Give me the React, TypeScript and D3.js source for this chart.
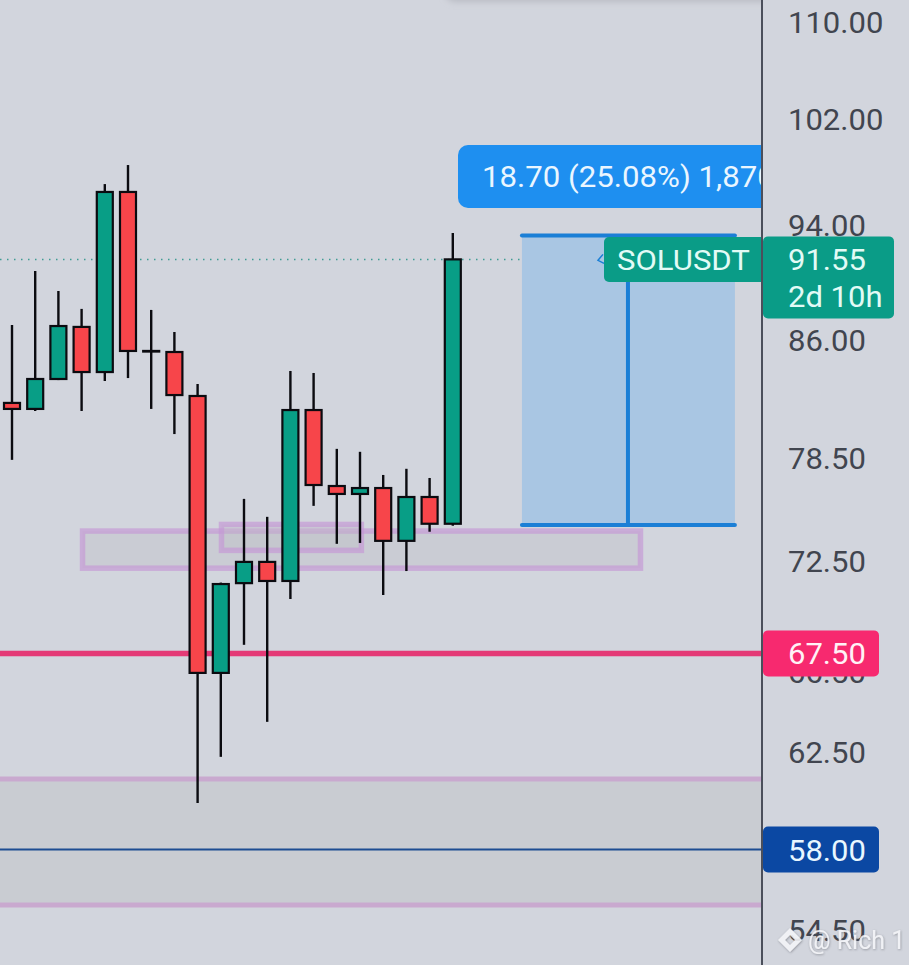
import * as d3 from "d3";
import { useEffect, useRef } from "react";

const W = 909;
const H = 965;
const AXIS_X = 762;

// SOLUSDT candles, oldest first
const opens = [81.93, 81.55, 83.46, 86.89, 83.91, 96.45, 85.29, 85.22, 82.37, 66.49, 71.27, 72.45, 71.39, 81.48, 76.83, 76.36, 76.71, 73.64, 76.18, 74.62];
const highs = [87.02, 90.73, 89.34, 88.11, 97.04, 98.48, 88.04, 86.55, 83.13, 71.3, 76.07, 75.02, 83.98, 83.85, 79.07, 78.89, 77.49, 77.86, 77.31, 93.43];
const lows = [78.4, 81.42, 83.39, 81.42, 83.33, 83.52, 81.55, 79.98, 60.13, 62.31, 67.95, 64.02, 70.4, 75.66, 73.47, 73.52, 70.62, 71.94, 74.16, 74.5];
const closes = [81.55, 83.46, 86.95, 83.91, 96.45, 85.29, 85.25, 82.43, 66.49, 71.22, 72.45, 71.39, 81.48, 76.89, 76.36, 76.71, 73.64, 76.18, 74.62, 91.55];

const priceTicks = [110, 102, 94, 86, 78.5, 72.5, 66.5, 62.5, 58, 54.5];

// drawn zones: [bar from, bar to, price top, price bottom]
const demandZone = [3.04, 27.09, 74.2, 72.1];
const innerZone = [9.03, 15.06, 74.58, 73.1];
const lowerZone = [-5, 40, 61.25, 55.56];

// long position tool
const posBars = [21.98, 31.16];
const posMidBar = 26.55;
const entryPrice = 74.55;
const targetPrice = 93.25;
const posLabel = "18.70 (25.08%) 1,870";

const supportLine = 67.5;
const lowLine = 58;
const lastPrice = 91.55;
const countdown = "2d 10h";

const GREEN = "#089e86";
const RED = "#f7454a";
const FONT = "Roboto, 'Noto Sans', sans-serif";

const fmt = d3.format(".2f");

export default function App() {
    const svgRef = useRef<SVGSVGElement | null>(null);

    useEffect(() => {
        if (!svgRef.current) return;
        const svg = d3.select(svgRef.current);
        svg.selectAll("*").remove();

        const x = d3.scaleLinear().domain([0, opens.length - 1]).range([12, 452.8]);
        const y = d3.scaleLog().domain([54.5, 110]).range([930, 22]);
        const step = x(1) - x(0);
        const bodyW = step * 0.69;

        // the screenshot is a little stretched sideways, so text gets a scaleX
        const stretchText = (sel: any, tx: number, ty: number, sx: number) =>
            sel.attr("x", 0).attr("y", 0).attr("transform", `translate(${tx},${ty}) scale(${sx},1)`);

        const defs = svg.append("defs");
        defs.append("clipPath").attr("id", "plot")
            .append("rect").attr("x", 0).attr("y", 0).attr("width", AXIS_X).attr("height", H);
        const blur = defs.append("filter").attr("id", "shadow").attr("x", "-10%").attr("y", "-50%").attr("width", "120%").attr("height", "200%");
        blur.append("feGaussianBlur").attr("stdDeviation", 3);
        const soft = defs.append("filter").attr("id", "wmshadow").attr("x", "-20%").attr("y", "-40%").attr("width", "140%").attr("height", "180%");
        soft.append("feDropShadow").attr("dx", 0.6).attr("dy", 0.8).attr("stdDeviation", 0.8).attr("flood-color", "#5a5d66").attr("flood-opacity", 0.6);

        svg.append("rect").attr("width", W).attr("height", H).attr("fill", "#d2d5dd");

        const plot = svg.append("g").attr("clip-path", "url(#plot)");

        // shadow of a label box sitting just above the screen
        plot.append("rect")
            .attr("x", 445).attr("y", -40).attr("width", 340).attr("height", 42)
            .attr("rx", 10).attr("fill", "#b9bcc4").attr("filter", "url(#shadow)");
        plot.append("rect")
            .attr("x", 445).attr("y", -40).attr("width", 340).attr("height", 40)
            .attr("rx", 10).attr("fill", "#d2d5dd");

        // lower grey zone
        const [lz0, lz1, lzTop, lzBot] = lowerZone;
        plot.append("rect")
            .attr("x", x(lz0)).attr("y", y(lzTop))
            .attr("width", x(lz1) - x(lz0)).attr("height", y(lzBot) - y(lzTop))
            .attr("fill", "#c9ccd2");
        [lzTop, lzBot].forEach(p => {
            plot.append("line")
                .attr("x1", x(lz0)).attr("x2", x(lz1)).attr("y1", y(p)).attr("y2", y(p))
                .attr("stroke", "#c9a9cf").attr("stroke-width", 5);
        });

        // blue 58 line
        plot.append("line")
            .attr("x1", 0).attr("x2", AXIS_X).attr("y1", y(lowLine)).attr("y2", y(lowLine))
            .attr("stroke", "#1d4c92").attr("stroke-width", 1.8);

        // demand zones
        [demandZone, innerZone].forEach(([b0, b1, pTop, pBot]) => {
            plot.append("rect")
                .attr("x", x(b0)).attr("y", y(pTop))
                .attr("width", x(b1) - x(b0)).attr("height", y(pBot) - y(pTop))
                .attr("fill", "rgba(190,190,196,0.35)")
                .attr("stroke", "rgba(196,150,214,0.65)").attr("stroke-width", 5.5);
        });

        // pink 67.5 line
        plot.append("line")
            .attr("x1", 0).attr("x2", AXIS_X).attr("y1", y(supportLine)).attr("y2", y(supportLine))
            .attr("stroke", "#e43a76").attr("stroke-width", 5.5);

        // last price dotted line
        plot.append("line")
            .attr("x1", 0).attr("x2", 604).attr("y1", y(lastPrice)).attr("y2", y(lastPrice))
            .attr("stroke", "#3f9c94").attr("stroke-width", 1.5)
            .attr("stroke-dasharray", "1.5,5.5");

        // long position box
        const px0 = x(posBars[0]);
        const px1 = x(posBars[1]);
        plot.append("rect")
            .attr("x", px0).attr("y", y(targetPrice))
            .attr("width", px1 - px0).attr("height", y(entryPrice) - y(targetPrice))
            .attr("fill", "#a9c6e3");
        [targetPrice, entryPrice].forEach(p => {
            plot.append("line")
                .attr("x1", px0).attr("x2", px1).attr("y1", y(p)).attr("y2", y(p))
                .attr("stroke", "#1b7fd6").attr("stroke-width", 4).attr("stroke-linecap", "round");
        });
        plot.append("line")
            .attr("x1", x(posMidBar)).attr("x2", x(posMidBar))
            .attr("y1", y(targetPrice)).attr("y2", y(entryPrice))
            .attr("stroke", "#1b7fd6").attr("stroke-width", 4);

        // candles
        const candles = opens.map((o, i) => ({ i, o, h: highs[i], l: lows[i], c: closes[i] }));
        const g = plot.append("g");
        g.selectAll(".wick")
            .data(candles)
            .enter()
            .append("line")
            .attr("x1", d => x(d.i)).attr("x2", d => x(d.i))
            .attr("y1", d => y(d.h)).attr("y2", d => y(d.l))
            .attr("stroke", "#0b0b10").attr("stroke-width", 2.4);
        g.selectAll(".body")
            .data(candles)
            .enter()
            .append("rect")
            .attr("x", d => x(d.i) - bodyW / 2)
            .attr("y", d => y(Math.max(d.o, d.c)))
            .attr("width", bodyW)
            .attr("height", d => Math.max(0.5, Math.abs(y(d.o) - y(d.c))))
            .attr("fill", d => (d.c >= d.o ? GREEN : RED))
            .attr("stroke", "#0b0b10").attr("stroke-width", 2.2);

        // position label
        plot.append("rect")
            .attr("x", 458).attr("y", 145).attr("width", 340).attr("height", 63)
            .attr("rx", 10).attr("fill", "#1e8ff0");
        stretchText(plot.append("text"), 482, 187, 1.04)
            .attr("fill", "#eaf6ff").attr("font-size", 30).attr("font-family", FONT)
            .text(posLabel);

        // SOLUSDT label
        plot.append("rect")
            .attr("x", 604).attr("y", 237).attr("width", 180).attr("height", 45)
            .attr("rx", 5).attr("fill", "#0a9c87");
        plot.append("path")
            .attr("d", `M603,${y(lastPrice) - 5} L598,${y(lastPrice) + 1} L604,${y(lastPrice) + 4}`)
            .attr("fill", "none").attr("stroke", "#1a7fd6").attr("stroke-width", 1.5);
        stretchText(plot.append("text"), 617, 270, 1.11)
            .attr("fill", "#e2fbf6").attr("font-size", 28).attr("font-family", FONT)
            .text("SOLUSDT");

        // price axis
        svg.append("line")
            .attr("x1", AXIS_X).attr("x2", AXIS_X).attr("y1", 0).attr("y2", H)
            .attr("stroke", "#4b4f5b").attr("stroke-width", 2);
        const tickG = svg.append("g");
        priceTicks.forEach(d => {
            stretchText(tickG.append("text"), 788, y(d) + 10.5, 1.07)
                .attr("fill", "#41454f").attr("font-size", 29).attr("font-family", FONT)
                .text(fmt(d));
        });

        // axis labels
        const axisLabel = (y0: number, h: number, w: number, fill: string, lines: string[], color: string) => {
            svg.append("rect")
                .attr("x", 763).attr("y", y0).attr("width", w).attr("height", h)
                .attr("rx", 5).attr("fill", fill);
            lines.forEach((t, k) => {
                stretchText(svg.append("text"), 788, y0 + 34 + k * 37, 1.07)
                    .attr("fill", color).attr("font-size", 29).attr("font-family", FONT)
                    .text(t);
            });
        };
        axisLabel(y(lastPrice) - 23, 82, 131, "#0a9c87", [fmt(lastPrice), countdown], "#e2fbf6");
        axisLabel(y(supportLine) - 23, 46, 116, "#f7296f", [fmt(supportLine)], "#fff2f6");
        axisLabel(y(lowLine) - 23, 46, 116, "#0b48a3", [fmt(lowLine)], "#e8f7ff");

        // watermark
        const wm = svg.append("g").attr("opacity", 0.9).attr("filter", "url(#wmshadow)");
        const cx = 790, cy = 940, r = 12;
        wm.append("path")
            .attr("d",
                `M${cx},${cy - r} L${cx + r},${cy} L${cx},${cy + r} L${cx - r},${cy} Z ` +
                `M${cx},${cy - 5} L${cx + 5},${cy} L${cx},${cy + 5} L${cx - 5},${cy} Z`)
            .attr("fill", "#f4f5f8").attr("fill-rule", "evenodd");
        wm.append("text")
            .attr("x", 808).attr("y", 949)
            .attr("fill", "#f4f5f8")
            .attr("font-size", 25).attr("font-family", FONT)
            .text("@ Rich 1");
    }, []);

    return (
        <svg
            ref={svgRef}
            width={W}
            height={H}
            style={{ position: "absolute", left: 0, top: 0, display: "block" }}
        />
    );
}
